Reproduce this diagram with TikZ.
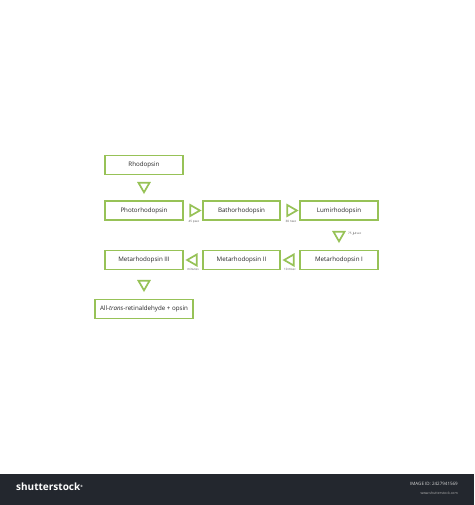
\documentclass[tikz,border=0pt]{standalone}
\usepackage{fontspec}
\setmainfont{Open Sans}
\usetikzlibrary{shapes.geometric}
\definecolor{grn}{HTML}{97C257}
\definecolor{banner}{HTML}{23272E}
\definecolor{lbl}{HTML}{555555}
\begin{document}
\begin{tikzpicture}[x=1pt,y=-1pt,
  stagebox/.style={draw=grn,line width=1.9pt,fill=white,minimum height=19pt,inner sep=0pt,font=\fontsize{6.2}{7}\selectfont,text=black!85},
  arr/.style={draw=grn,line width=1.7pt,fill=white,isosceles triangle,isosceles triangle apex angle=60,minimum size=9.5pt,inner sep=0pt},
  tlabel/.style={font=\fontsize{3}{3.5}\selectfont,text=lbl,inner sep=0pt}]
\useasboundingbox (0,0) rectangle (474,505);
\fill[white] (0,0) rectangle (474,505);
% boxes
\node[stagebox,minimum width=78pt] (rho) at (144,165) {Rhodopsin};
\node[stagebox,minimum width=78pt] (photo) at (144,210.5) {Photorhodopsin};
\node[stagebox,minimum width=77pt] (batho) at (241.5,210.5) {Bathorhodopsin};
\node[stagebox,minimum width=78pt] (lumi) at (339,210.5) {Lumirhodopsin};
\node[stagebox,minimum width=78pt] (meta3) at (144,260) {Metarhodopsin III};
\node[stagebox,minimum width=77pt] (meta2) at (241.5,260) {Metarhodopsin II};
\node[stagebox,minimum width=78pt] (meta1) at (339,260) {Metarhodopsin I};
\node[stagebox,minimum width=98pt] (atr) at (144,309) {All-\textit{trans}-retinaldehyde + opsin};
% arrows
\node[arr,shape border rotate=-90] (a1) at (144,186) {};
\node[arr,shape border rotate=0] (a2) at (193.5,210.5) {};
\node[arr,shape border rotate=0] (a3) at (290.5,210.5) {};
\node[arr,shape border rotate=-90] (a4) at (339,235) {};
\node[arr,shape border rotate=180] (a5) at (290.5,260) {};
\node[arr,shape border rotate=180] (a6) at (193.5,260) {};
\node[arr,shape border rotate=-90] (a7) at (144,284) {};
% labels
\node[tlabel] (l2) at (194,221.5) {45 psec};
\node[tlabel] (l3) at (291,221.5) {30 nsec};
\node[tlabel,anchor=west] (l4) at (348,234) {75 $\mu$sec};
\node[tlabel] (l5) at (290,269.5) {10 msec};
\node[tlabel] (l6) at (193,269.5) {minutes};
% banner
\fill[banner] (0,474) rectangle (474,505);
\node[anchor=west,text=white,font=\fontsize{10}{11}\selectfont\bfseries,inner sep=0pt] (ss) at (16,487) {shutterstock\textsuperscript{\fontsize{3}{3}\selectfont ®}};
\node[anchor=east,text=white!85!black,font=\fontsize{4.5}{5}\selectfont,inner sep=0pt] (iid) at (458,484) {IMAGE ID: 2427941569};
\node[anchor=east,text=white!70!black,font=\fontsize{3.5}{4}\selectfont,inner sep=0pt] (www) at (458,493) {www.shutterstock.com};
\end{tikzpicture}
\end{document}
